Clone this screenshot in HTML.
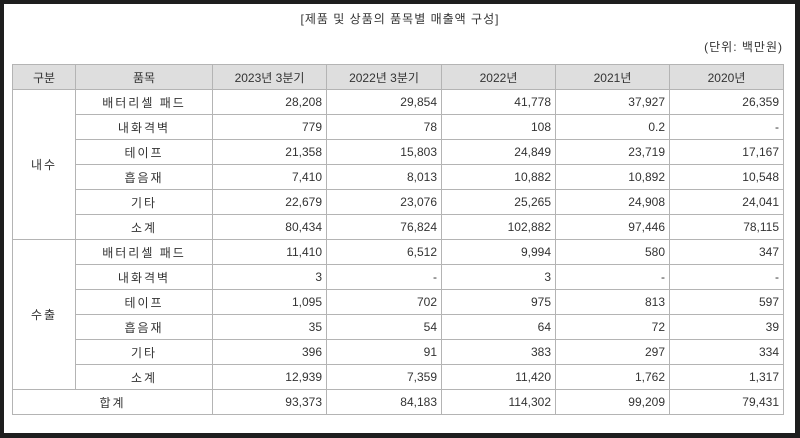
<!DOCTYPE html>
<html><head><meta charset="utf-8"><style>
body{margin:0;background:#1e1e1e;}
#frame{position:absolute;left:4px;top:4px;width:791px;height:429px;background:#fff;}
#title{position:absolute;left:0;width:800px;top:10px;text-align:center;font:12px "Liberation Sans","Noto Sans CJK KR",sans-serif;color:#333;letter-spacing:1px}
#unit{position:absolute;right:17px;top:38px;font:12px "Liberation Sans","Noto Sans CJK KR",sans-serif;color:#333;letter-spacing:1px}
table{position:absolute;left:12px;top:64px;border-collapse:collapse;font:12px "Liberation Sans","Noto Sans CJK KR",sans-serif;color:#333;}
td,th{border:1px solid #b4b4b4;height:25px;padding:0 4px;font-weight:normal;box-sizing:border-box}
table{border:1px solid #777}
th{background:#dedede;}
td.n{text-align:right}
td.c{text-align:center;letter-spacing:2px}
</style></head><body>
<div id="frame"></div>
<div id="title">[제품 및 상품의 품목별 매출액 구성]</div>
<div id="unit">(단위: 백만원)</div>
<table>
<colgroup><col style="width:63px"><col style="width:137px"><col style="width:114px"><col style="width:115px"><col style="width:114px"><col style="width:114px"><col style="width:114px"></colgroup>
<tbody id="tb"></tbody>
</table>
<script>
const headers=["구분","품목","2023년 3분기","2022년 3분기","2022년","2021년","2020년"];
const items=["배터리셀 패드","내화격벽","테이프","흡음재","기타","소계"];
const domestic=[["28,208","29,854","41,778","37,927","26,359"],["779","78","108","0.2","-"],["21,358","15,803","24,849","23,719","17,167"],["7,410","8,013","10,882","10,892","10,548"],["22,679","23,076","25,265","24,908","24,041"],["80,434","76,824","102,882","97,446","78,115"]];
const exportv=[["11,410","6,512","9,994","580","347"],["3","-","3","-","-"],["1,095","702","975","813","597"],["35","54","64","72","39"],["396","91","383","297","334"],["12,939","7,359","11,420","1,762","1,317"]];
const total=["93,373","84,183","114,302","99,209","79,431"];
const tb=document.getElementById('tb');
let tr=document.createElement('tr');


headers.forEach(h=>{const th=document.createElement('th');th.textContent=h;


tr.appendChild(th);});
tb.appendChild(tr);
function group(name,vals){
 vals.forEach((row,i)=>{
  const r=document.createElement('tr');
  
  
  if(i===0){const g=document.createElement('td');g.rowSpan=6;g.className='c';g.textContent=name;
   
   
   r.appendChild(g);}
  const it=document.createElement('td');it.className='c';it.textContent=items[i];
  
  
  r.appendChild(it);
  row.forEach(v=>{const c=document.createElement('td');c.className='n';c.textContent=v;
   
   
   r.appendChild(c);});
  tb.appendChild(r);
 });
}
group("내수",domestic);group("수출",exportv);
tr=document.createElement('tr');


const t=document.createElement('td');t.colSpan=2;t.className='c';t.textContent='합계';


tr.appendChild(t);
total.forEach(v=>{const c=document.createElement('td');c.className='n';c.textContent=v;


tr.appendChild(c);});
tb.appendChild(tr);
</script>
</body></html>
